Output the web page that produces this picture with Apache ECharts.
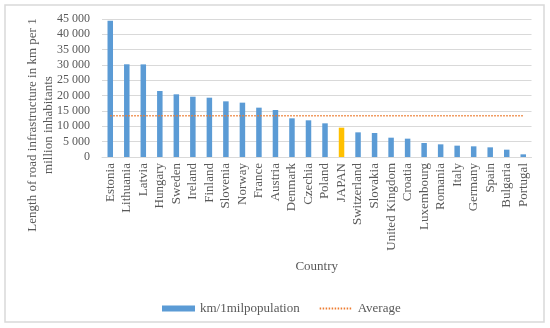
<!DOCTYPE html>
<html>
<head>
<meta charset="utf-8">
<script src="https://cdn.jsdelivr.net/npm/echarts@6/dist/echarts.min.js"></script>
<style>html,body{margin:0;padding:0;background:#fff}#c{width:550px;height:328px}</style>
</head>
<body>
<div id="c"></div>
<script>
var countries = ["Estonia","Lithuania","Latvia","Hungary","Sweden","Ireland","Finland","Slovenia","Norway","France","Austria","Denmark","Czechia","Poland","JAPAN","Switzerland","Slovakia","United Kingdom","Croatia","Luxembourg","Romania","Italy","Germany","Spain","Bulgaria","Portugal"];
var kmPerMil = [44450,30230,30200,21520,20440,19660,19340,18150,17720,16090,15330,12610,11960,10980,9560,8040,7820,6300,5980,4560,4130,3700,3480,3150,2390,870];
var averageValue = 13450;
var averageLine = countries.map(function(){ return averageValue; });
var yTicks = [0,5000,10000,15000,20000,25000,30000,35000,40000,45000];
var highlight = "JAPAN";

var FONT = "Liberation Serif";
var TXT = "#595959";
var chart = echarts.init(document.getElementById('c'), null, {renderer:'canvas'});
function fmt(v){ var s = String(v); if (s.length > 3) s = s.slice(0, s.length-3) + " " + s.slice(s.length-3); return s; }
chart.setOption({
  animation:false,
  backgroundColor:'#fff',
  grid:{left:102, right:18.5, top:19, bottom:171, containLabel:false},
  legend:{
    left:157, top:297, itemWidth:33, itemHeight:6, itemGap:19,
    textStyle:{fontFamily:FONT, fontSize:13, color:TXT},
    data:[{name:'km/1milpopulation', icon:'rect'}, {name:'Average', itemStyle:{opacity:0}}]
  },
  xAxis:{
    type:'category', data:countries,
    name:'Country', nameLocation:'middle', nameGap:103,
    nameTextStyle:{fontFamily:FONT, fontSize:13, color:TXT},
    axisLine:{lineStyle:{color:'#d9d9d9', width:1}},
    axisTick:{show:false},
    axisLabel:{rotate:90, interval:0, fontFamily:FONT, fontSize:13, color:TXT, margin:6}
  },
  yAxis:{
    type:'value', min:0, max:45000, interval:5000,
    axisLine:{show:false}, axisTick:{show:false},
    splitLine:{lineStyle:{color:'#d9d9d9', width:1}},
    axisLabel:{fontFamily:FONT, fontSize:12, color:TXT, margin:12, formatter:function(v){ return yTicks.indexOf(v) >= 0 ? fmt(v) : ''; }}
  },
  series:[
    {name:'km/1milpopulation', type:'bar', barWidth:5.5,
     itemStyle:{color:'#5b9bd5'},
     data:kmPerMil.map(function(v,i){ return countries[i]===highlight ? {value:v, itemStyle:{color:'#ffc000'}} : v; })},
    {name:'Average', type:'line', data:averageLine, symbol:'none', showSymbol:false,
     lineStyle:{color:'#ed7d31', width:1.5, type:[1.5,1.5]}, itemStyle:{color:'#ed7d31'}}
  ],
  graphic:[
    {type:'rect', shape:{x:5, y:5, width:539, height:317}, style:{fill:null, stroke:'#d9d9d9', lineWidth:1.5}, silent:true},
    {type:'text', x:41, y:125, rotation:Math.PI/2,
     style:{text:'Length of road infrastructure in km per 1\nmillion inhabitants', align:'center', verticalAlign:'middle', font:'13px "Liberation Serif"', fill:TXT, lineHeight:16}}
  ]
});
</script>
</body>
</html>
